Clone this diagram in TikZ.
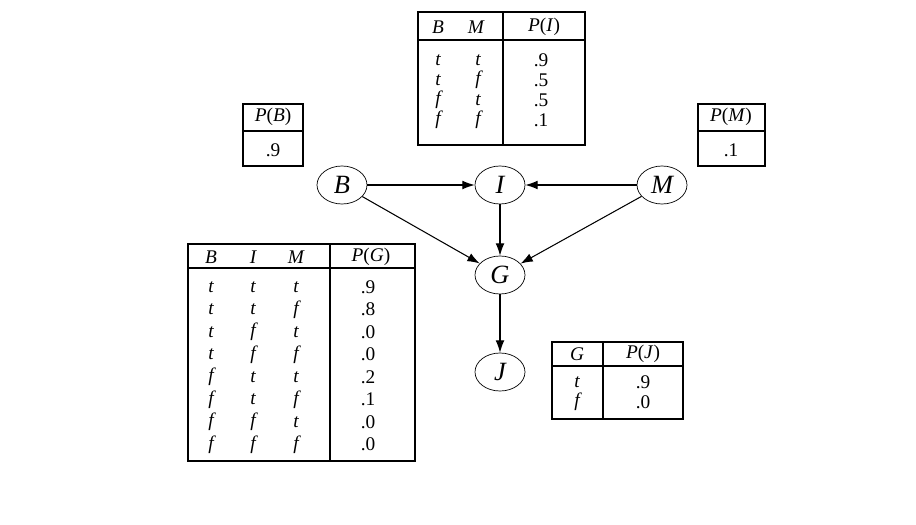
\documentclass[tikz,border=0pt]{standalone}
\usepackage{fontspec}
\setmainfont{Liberation Serif}
\usetikzlibrary{shapes.geometric,arrows.meta}
\begin{document}
\begin{tikzpicture}[x=0.02cm,y=-0.02cm,
  var/.style={ellipse,draw,minimum width=50*0.02cm,minimum height=38*0.02cm,inner sep=0pt,font=\fontsize{15}{15}\selectfont\itshape},
  edge/.style={draw,-{Latex[length=7pt,width=5pt]},line width=0.6pt},
  tb/.style={draw,line width=0.6pt},
  tx/.style={font=\fontsize{11}{11}\selectfont,inner sep=0pt}]
\useasboundingbox (0,0) rectangle (916,524);
\node[var] (B) at (342,185) {B};
\node[var] (I) at (500,185) {I};
\node[var] (M) at (662,185) {M};
\node[var] (G) at (500,275) {G};
\node[var] (J) at (500,372) {J};
\draw[edge] (B) -- (I);
\draw[edge] (M) -- (I);
\draw[edge] (B) -- (G);
\draw[edge] (I) -- (G);
\draw[edge] (M) -- (G);
\draw[edge] (G) -- (J);
% P(I)
\draw[tb] (418,12) rectangle (585,145);
\draw[tb] (418,40) -- (585,40);
\draw[tb] (503,12) -- (503,145);
\node[tx] (ib) at (438,27) {\itshape B};
\node[tx] (im) at (476,27) {\itshape M};
\node[tx] (ip) at (544,27) {\textit{P}(\textit{I})};
\foreach \b/\m/\p [count=\k] in {t/t/.9,t/f/.5,f/t/.5,f/f/.1}{
  \node[tx] (ib\k) at (438,40+\k*20) {\itshape\b};
  \node[tx] (im\k) at (478,40+\k*20) {\itshape\m};
  \node[tx] (ip\k) at (541,40+\k*20) {\p};}
% P(B)
\draw[tb] (243,104) rectangle (303,166);
\draw[tb] (243,131) -- (303,131);
\node[tx] (pb) at (273,117) {\textit{P}(\textit{B})};
\node[tx] (pbv) at (273,150) {.9};
% P(M)
\draw[tb] (698,104) rectangle (765,166);
\draw[tb] (698,131) -- (765,131);
\node[tx] (pm) at (731,117) {\textit{P}(\textit{M})};
\node[tx] (pmv) at (731,150) {.1};
% P(G)
\draw[tb] (188,244) rectangle (415,461);
\draw[tb] (188,268) -- (415,268);
\draw[tb] (330,244) -- (330,461);
\node[tx] (gb) at (211,257) {\itshape B};
\node[tx] (gi) at (253,257) {\itshape I};
\node[tx] (gm) at (296,257) {\itshape M};
\node[tx] (gp) at (371,257) {\textit{P}(\textit{G})};
\foreach \b/\i/\m/\p [count=\k] in {t/t/t/.9,t/t/f/.8,t/f/t/.0,t/f/f/.0,f/t/t/.2,f/t/f/.1,f/f/t/.0,f/f/f/.0}{
  \node[tx] (gb\k) at (211,264.5+\k*22.5) {\itshape\b};
  \node[tx] (gi\k) at (253,264.5+\k*22.5) {\itshape\i};
  \node[tx] (gm\k) at (296,264.5+\k*22.5) {\itshape\m};
  \node[tx] (gp\k) at (368,264.5+\k*22.5) {\p};}
% P(J)
\draw[tb] (552,342) rectangle (683,419);
\draw[tb] (552,366) -- (683,366);
\draw[tb] (603,342) -- (603,419);
\node[tx] (jg) at (577,354) {\itshape G};
\node[tx] (jp) at (643,354) {\textit{P}(\textit{J})};
\node[tx] (jg1) at (577,382) {\itshape t};
\node[tx] (jg2) at (577,402) {\itshape f};
\node[tx] (jp1) at (643,382) {.9};
\node[tx] (jp2) at (643,402) {.0};
\end{tikzpicture}
\end{document}
